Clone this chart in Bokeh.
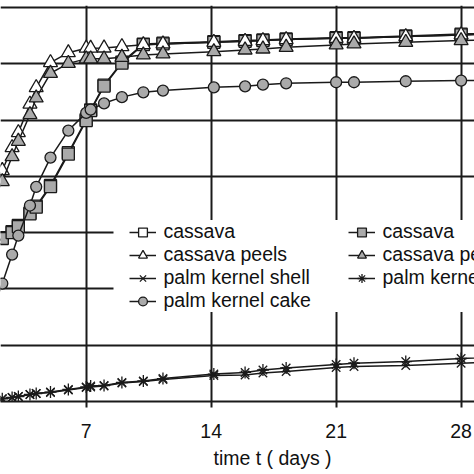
from bokeh.plotting import figure
from bokeh.models import Legend, LegendItem, FixedTicker, Grid, Title, Range1d, BoxAnnotation
from bokeh.embed import file_html
from bokeh.resources import INLINE

# time (days); first and last points lie just outside the visible window
days = [1.5, 2.3, 2.85, 3.2, 3.85, 4.2, 5, 6, 7, 7.25, 8, 9, 10.2, 11.3,
        14.15, 15.9, 16.9, 18.2, 21, 22, 24.9, 28, 31]

cassava_open = [135, 145.5, 151, 156.5, 167.5, 173.5, 192, 221, 250.5, 259, 281, 301.5,
                317.5, 318.3, 319.6, 320.6, 321.2, 322.1, 323.2, 323.2, 324.8, 326.4, 328.5]
cassava_grey = [135, 144.8, 150.1, 155.4, 166.7, 172.6, 190.9, 219.8, 249.6, 258.4, 280.2, 300.6,
                317.0, 317.7, 319.1, 320.0, 320.6, 321.5, 322.6, 322.6, 324.2, 325.7, 327.5]
peels_open = [177, 205.2, 225.6, 238.9, 264.2, 278.9, 301.1, 309.9, 313.9, 313.9, 314.1, 315.3,
              317.0, 317.7, 319.1, 320.0, 320.6, 321.5, 322.6, 322.6, 324.2, 325.7, 327.5]
peels_grey = [170, 195.4, 217.6, 231.2, 254.9, 269.7, 291.6, 300.4, 304.4, 304.4, 304.4, 305.8,
              307.9, 308.8, 310.8, 312.3, 313.2, 314.7, 316.8, 317.7, 319.1, 320.6, 322]
cake = [70, 104.8, 130.5, 147.4, 174.1, 190.7, 216.7, 240.7, 256.4, 259.3, 264.9, 270.4,
        274.7, 276.2, 279.1, 280.0, 281.5, 282.7, 283.6, 283.6, 284.5, 285.1, 285.7]
shell_x = [1.5, 2.4, 3.6, 4.4, 6.2, 7.1, 8.0, 10.2, 12.4, 12.9, 13.8, 16.4,
           17.8, 19.5, 23.1, 23.5, 25.3, 26.6, 30.2, 31.1, 32.0, 34.0, 35.5]
shell_ast = [1.5, 2.4, 3.6, 4.4, 6.2, 7.1, 8.4, 10.7, 12.9, 13.8, 14.2, 16.9,
             18.2, 20.4, 24.4, 25.8, 28.0, 29.8, 32.9, 34.0, 35.5, 38.2, 40.5]

x_ticks = [7, 14, 21, 28]
y_grid = [0, 50, 100, 150, 200, 250, 300, 350]
x_title = "time t ( days )"

FONT = "Liberation Sans"
GREY = "#aaaaaa"
INK = "#1a1a1a"

X0, X1 = 2.2, 28.75
Y0, Y1 = 0, 351.8
W, FRAME_H = 474, 396

p = figure(width=W, height=474, output_backend="svg", toolbar_location=None,
           x_range=Range1d(X0, X1), y_range=Range1d(Y0, Y1),
           y_axis_location=None, min_border_left=0, min_border_right=0,
           min_border_top=5, min_border_bottom=73)
p.outline_line_color = None
p.background_fill_color = "white"
p.border_fill_color = "white"

p.xaxis.ticker = FixedTicker(ticks=x_ticks)
p.xaxis.major_tick_out = 6
p.xaxis.major_tick_in = 0
p.xaxis.minor_tick_line_color = None
p.xaxis.axis_line_color = INK
p.xaxis.axis_line_width = 2
p.xaxis.major_tick_line_color = INK
p.xaxis.major_tick_line_width = 2
p.xaxis.major_label_text_font = FONT
p.xaxis.major_label_text_font_size = "19.5px"
p.xaxis.major_label_text_color = "#111"
p.xaxis.major_label_standoff = 16

p.xgrid.ticker = FixedTicker(ticks=x_ticks)
p.xgrid.grid_line_color = INK
p.xgrid.grid_line_width = 2
p.add_layout(Grid(dimension=1, ticker=FixedTicker(ticks=y_grid),
                  grid_line_color=INK, grid_line_width=2))

p.add_layout(Title(text=x_title, align="left", offset=213, standoff=8,
                   text_font=FONT, text_font_size="19.5px", text_font_style="normal",
                   text_color="#111"), "below")

def series(y, marker, fill, size):
    ln = p.line(days, y, line_color=INK, line_width=1.5)
    sc = p.scatter(days, y, marker=marker, size=size, fill_color=fill,
                   line_color=INK, line_width=1.3)
    return [ln, sc]

r_os = series(cassava_open, "square", "white", 12)
r_gs = series(cassava_grey, "square", GREY, 12)
r_ot = series(peels_open, "triangle", "white", 14)
r_gt = series(peels_grey, "triangle", GREY, 14)
r_pc = series(cake, "circle", GREY, 11)
r_x = series(shell_x, "x", None, 12)
r_a = series(shell_ast, "asterisk", None, 12)

# white margin to the left of the legend box (legend padding is symmetric)
def sx(px):
    return X0 + px * (X1 - X0) / W
def sy(py):
    return Y1 - (py - 5) * (Y1 - Y0) / FRAME_H
p.add_layout(BoxAnnotation(left=sx(113), right=sx(131), top=sy(217), bottom=sy(311),
                           fill_color="white", fill_alpha=1.0, line_color=None))

items = [
    LegendItem(label="cassava", renderers=r_os),
    LegendItem(label="cassava peels", renderers=r_ot),
    LegendItem(label="palm kernel shell", renderers=r_x),
    LegendItem(label="palm kernel cake", renderers=r_pc),
    LegendItem(label="cassava", renderers=r_gs),
    LegendItem(label="cassava peels", renderers=r_gt),
    LegendItem(label="palm kernel shell", renderers=r_a),
]
legend = Legend(items=items, ncols=2, location=(128.5, 89),
                label_text_font=FONT, label_text_font_size="19.5px", label_text_color="#111",
                label_standoff=8, glyph_width=27, glyph_height=22, label_height=22,
                label_width=184, spacing=0, padding=5, margin=0,
                border_line_color=None, background_fill_color="white",
                background_fill_alpha=1.0)
p.add_layout(legend)

open("out.html", "w").write(file_html(p, INLINE))
